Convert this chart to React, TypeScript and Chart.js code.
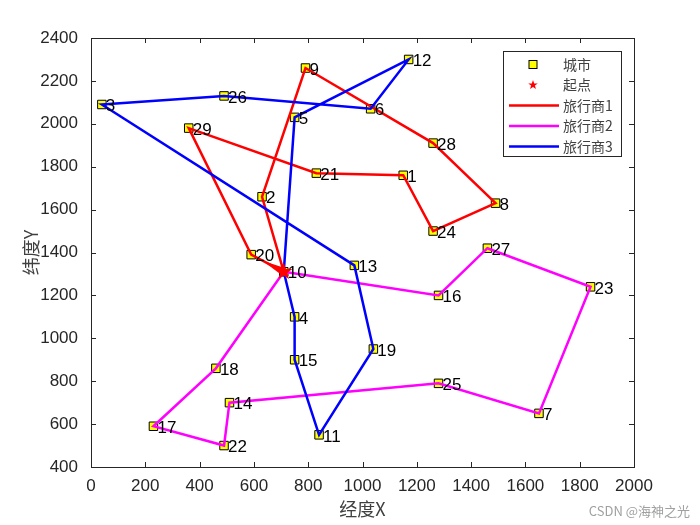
import { useEffect, useRef } from 'react';
import Chart from 'chart.js/auto';

const cityIds = [1, 2, 3, 4, 5, 6, 7, 8, 9, 10, 11, 12, 13, 14, 15, 16, 17, 18, 19, 20, 21, 22, 23, 24, 25, 26, 27, 28, 29];
const cityX = [1150, 630, 40, 750, 750, 1030, 1650, 1490, 790, 710, 840, 1170, 970, 510, 750, 1280, 230, 460, 1040, 590, 830, 490, 1840, 1260, 1280, 490, 1460, 1260, 360];
const cityY = [1760, 1660, 2090, 1100, 2030, 2070, 650, 1630, 2260, 1310, 550, 2300, 1340, 700, 900, 1200, 590, 860, 950, 1390, 1770, 500, 1240, 1500, 790, 2130, 1420, 1910, 1980];

const route1 = [10, 20, 29, 21, 1, 24, 8, 28, 9, 2, 10];
const route2 = [10, 16, 27, 23, 7, 25, 14, 22, 17, 18, 10];
const route3 = [10, 4, 15, 11, 19, 13, 3, 26, 6, 12, 5, 10];

const startCity = 10;
const wedgeCity = 20;
const legendLabels = ['城市', '起点', '旅行商1', '旅行商2', '旅行商3'];
const xTickStep = 200;
const yTickStep = 200;

const cityPoint = (id: number) => ({ x: cityX[id - 1], y: cityY[id - 1] });

const inkColor = '#262626';
const cjkFont = '"Noto Sans CJK SC", sans-serif';
const latinFont = '"Liberation Sans", Arial, sans-serif';

function drawStar(ctx: CanvasRenderingContext2D, x: number, y: number, r: number) {
  ctx.beginPath();
  for (let i = 0; i < 10; i++) {
    const radius = i % 2 === 0 ? r : r * 0.4;
    const angle = -Math.PI / 2 + (i * Math.PI) / 5;
    const px = x + radius * Math.cos(angle);
    const py = y + radius * Math.sin(angle);
    if (i === 0) ctx.moveTo(px, py);
    else ctx.lineTo(px, py);
  }
  ctx.closePath();
  ctx.fill();
}

// axes box with inward ticks, matlab style
const boxPlugin = {
  id: 'box',
  afterDatasetsDraw(chart: any) {
    const { ctx, chartArea: a, scales } = chart;
    ctx.save();
    ctx.strokeStyle = inkColor;
    ctx.lineWidth = 1;
    ctx.strokeRect(a.left + 0.5, a.top + 0.5, a.right - a.left, a.bottom - a.top);
    ctx.beginPath();
    for (const t of scales.x.ticks) {
      const px = Math.round(scales.x.getPixelForValue(t.value)) + 0.5;
      ctx.moveTo(px, a.bottom);
      ctx.lineTo(px, a.bottom - 5);
      ctx.moveTo(px, a.top);
      ctx.lineTo(px, a.top + 5);
    }
    for (const t of scales.y.ticks) {
      const py = Math.round(scales.y.getPixelForValue(t.value)) + 0.5;
      ctx.moveTo(a.left, py);
      ctx.lineTo(a.left + 5, py);
      ctx.moveTo(a.right, py);
      ctx.lineTo(a.right - 5, py);
    }
    ctx.stroke();
    ctx.restore();
  },
};

const cityLabelPlugin = {
  id: 'cityLabels',
  afterDatasetsDraw(chart: any) {
    const { ctx, scales } = chart;
    ctx.save();
    ctx.fillStyle = '#000';
    ctx.font = `17px ${latinFont}`;
    ctx.textAlign = 'left';
    ctx.textBaseline = 'middle';
    cityIds.forEach((id, i) => {
      ctx.fillText(String(id), scales.x.getPixelForValue(cityX[i]) + 4, scales.y.getPixelForValue(cityY[i]) + 2);
    });
    ctx.restore();
  },
};

const legendPlugin = {
  id: 'sideLegend',
  afterDraw(chart: any) {
    const { ctx } = chart;
    const left = 503;
    const top = 51;
    const width = 118;
    const height = 105;
    const rowH = 20.5;
    ctx.save();
    ctx.fillStyle = '#fff';
    ctx.fillRect(left, top, width, height);
    ctx.strokeStyle = inkColor;
    ctx.lineWidth = 1;
    ctx.strokeRect(left + 0.5, top + 0.5, width, height);
    ctx.textBaseline = 'middle';
    ctx.textAlign = 'left';
    const colors = [null, null, '#ff0000', '#ff00ff', '#0000ff'];
    legendLabels.forEach((label, i) => {
      const cy = top + 13.5 + i * rowH;
      const cx = left + 30;
      if (i === 0) {
        ctx.fillStyle = '#ffff00';
        ctx.strokeStyle = '#000';
        ctx.fillRect(cx - 4, cy - 4, 8, 8);
        ctx.strokeRect(cx - 4, cy - 4, 8, 8);
      } else if (i === 1) {
        ctx.fillStyle = '#ff0000';
        drawStar(ctx, cx, cy, 5);
      } else {
        ctx.strokeStyle = colors[i];
        ctx.lineWidth = 2.5;
        ctx.beginPath();
        ctx.moveTo(left + 6, cy);
        ctx.lineTo(left + 56, cy);
        ctx.stroke();
        ctx.lineWidth = 1;
      }
      ctx.fillStyle = '#404040';
      ctx.font = `14px ${cjkFont}`;
      ctx.fillText(label, left + 60, cy);
    });
    ctx.restore();
  },
};

// start star and the red wedge into it sit below the route lines
const startStarPlugin = {
  id: 'startStar',
  afterDatasetsDraw(chart: any) {
    const { ctx, scales } = chart;
    const p = cityPoint(startCity);
    const w = cityPoint(wedgeCity);
    const px = scales.x.getPixelForValue(p.x);
    const py = scales.y.getPixelForValue(p.y);
    const wx = scales.x.getPixelForValue(w.x);
    const wy = scales.y.getPixelForValue(w.y);
    const len = Math.hypot(px - wx, py - wy);
    const nx = (-(py - wy) / len) * 4;
    const ny = ((px - wx) / len) * 4;
    // wedge only covers the last part of the leg
    const sx = wx + (px - wx) * 0.35;
    const sy = wy + (py - wy) * 0.35;
    ctx.save();
    ctx.fillStyle = '#ff0000';
    ctx.beginPath();
    ctx.moveTo(sx, sy);
    ctx.lineTo(px + nx, py + ny);
    ctx.lineTo(px - nx, py - ny);
    ctx.closePath();
    ctx.fill();
    drawStar(ctx, px, py, 9);
    ctx.restore();
  },
};

const routeDataset = (label: string, route: number[], color: string, order: number) => ({
  label,
  data: route.map(cityPoint),
  showLine: true,
  borderColor: color,
  borderWidth: 2.5,
  pointRadius: 0,
  tension: 0,
  order,
});

export default function App() {
  const canvasRef = useRef<HTMLCanvasElement>(null);

  useEffect(() => {
    if (!canvasRef.current) return;
    const chart = new Chart(canvasRef.current, {
      type: 'scatter',
      data: {
        datasets: [
          {
            label: legendLabels[0],
            data: cityIds.map(cityPoint),
            pointStyle: 'rect',
            pointRadius: 6,
            pointBackgroundColor: '#ffff00',
            pointBorderColor: '#000',
            pointBorderWidth: 1,
            order: 5,
          },
          routeDataset(legendLabels[2], route1, '#ff0000', 4),
          routeDataset(legendLabels[3], route2, '#ff00ff', 3),
          routeDataset(legendLabels[4], route3, '#0000ff', 2),
        ],
      },
      options: {
        animation: false,
        responsive: false,
        devicePixelRatio: 1,
        layout: { padding: { top: 38, right: 66, left: 0, bottom: 0 } },
        plugins: { legend: { display: false }, tooltip: { enabled: false } },
        scales: {
          x: {
            type: 'linear',
            min: 0,
            max: 2000,
            afterFit: (s: any) => { s.height = 58; },
            grid: { display: false },
            border: { display: false },
            ticks: {
              stepSize: xTickStep,
              maxRotation: 0,
              autoSkip: false,
              color: inkColor,
              padding: 1,
              callback: (v: any) => String(v),
              font: { family: latinFont, size: 17 },
            },
            title: {
              display: true,
              text: '经度X',
              color: '#404040',
              padding: { top: 0, bottom: 5 },
              font: { family: cjkFont, size: 18 },
            },
          },
          y: {
            type: 'linear',
            min: 400,
            max: 2400,
            afterFit: (s: any) => { s.width = 91; },
            grid: { display: false },
            border: { display: false },
            ticks: {
              stepSize: yTickStep,
              autoSkip: false,
              color: inkColor,
              padding: 5,
              callback: (v: any) => String(v),
              font: { family: latinFont, size: 17 },
            },
            title: {
              display: true,
              text: '纬度Y',
              color: '#404040',
              padding: { top: 20, bottom: 0 },
              font: { family: cjkFont, size: 18 },
            },
          },
        },
      },
      plugins: [boxPlugin, startStarPlugin, cityLabelPlugin, legendPlugin],
    } as any);
    return () => chart.destroy();
  }, []);

  return (
    <div style={{ width: 700, height: 525, position: 'absolute', left: 0, top: 0, background: '#fff' }}>
      <canvas ref={canvasRef} width={700} height={525} style={{ display: 'block' }} />
      <div
        style={{
          position: 'absolute',
          right: 10,
          bottom: 5,
          fontFamily: cjkFont,
          fontSize: 13,
          color: '#a0a0a0',
        }}
      >
        CSDN @海神之光
      </div>
    </div>
  );
}
